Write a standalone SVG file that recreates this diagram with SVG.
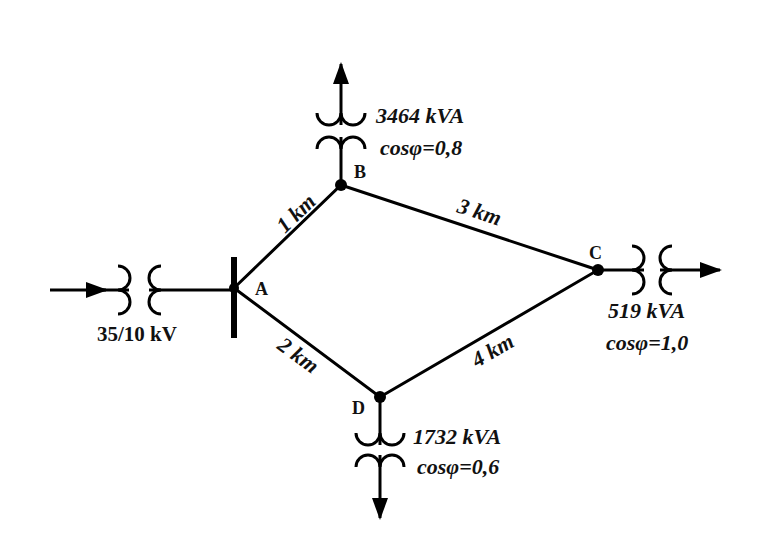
<svg xmlns="http://www.w3.org/2000/svg" width="782" height="554" viewBox="0 0 782 554">
<style>
.l{stroke:#000;stroke-width:3;fill:none}
.t{font-family:"Liberation Serif",serif;font-weight:bold;font-style:italic;font-size:22px;fill:#111}
.n{font-family:"Liberation Serif",serif;font-weight:bold;font-size:18px;fill:#111}
</style>
<defs><marker id="ar" markerWidth="22" markerHeight="16" refX="20" refY="8" orient="auto" markerUnits="userSpaceOnUse" viewBox="0 0 22 16"><path d="M0,0L22,8L0,16z" fill="#000"/></marker></defs>
<rect width="782" height="554" fill="#fff"/>
<g id="connectors">
<path class="l" d="M234,288L341,185L598,270L380,397Z"/>
</g>
<g id="A">
<line x1="234" y1="257" x2="234" y2="338" stroke="#000" stroke-width="6"/>
<circle cx="234" cy="288" r="5"/>
<line class="l" x1="50" y1="290" x2="106" y2="290" marker-end="url(#ar)"/>
<line class="l" x1="100" y1="290" x2="129" y2="290"/>
<path class="l" d="M118,266a12,12 0 0 1 0,24a12,12 0 0 1 0,24"/>
<path class="l" d="M161,266a12,12 0 0 0 0,24a12,12 0 0 0 0,24"/>
<line class="l" x1="149" y1="290" x2="234" y2="290"/>
<text class="n" x="255" y="295">A</text>
<text class="n" x="97" y="341" style="font-size:21px">35/10 kV</text>
</g>
<g id="B">
<circle cx="341" cy="185" r="6"/>
<line class="l" x1="341" y1="185" x2="341" y2="137"/>
<path class="l" d="M317,149a12,12 0 0 1 24,0a12,12 0 0 1 24,0"/>
<path class="l" d="M317,113a12,12 0 0 0 24,0a12,12 0 0 0 24,0"/>
<line class="l" x1="341" y1="125" x2="341" y2="64" marker-end="url(#ar)"/>
<text class="n" x="354" y="178">B</text>
<text class="t" x="376" y="123">3464 kVA</text>
<text class="t" x="380" y="155">cosφ=0,8</text>
</g>
<g id="C">
<circle cx="598" cy="270" r="6"/>
<line class="l" x1="598" y1="270" x2="644" y2="270"/>
<path class="l" d="M632,246a12,12 0 0 1 0,24a12,12 0 0 1 0,24"/>
<path class="l" d="M672,246a12,12 0 0 0 0,24a12,12 0 0 0 0,24"/>
<line class="l" x1="660" y1="270" x2="720" y2="270" marker-end="url(#ar)"/>
<text class="n" x="589" y="259">C</text>
<text class="t" x="608" y="318">519 kVA</text>
<text class="t" x="606" y="350">cosφ=1,0</text>
</g>
<g id="D">
<circle cx="380" cy="397" r="6"/>
<line class="l" x1="380" y1="397" x2="380" y2="445"/>
<path class="l" d="M356,433a12,12 0 0 0 24,0a12,12 0 0 0 24,0"/>
<path class="l" d="M356,467a12,12 0 0 1 24,0a12,12 0 0 1 24,0"/>
<line class="l" x1="380" y1="455" x2="380" y2="518" marker-end="url(#ar)"/>
<text class="n" x="352" y="414">D</text>
<text class="t" x="413" y="444">1732 kVA</text>
<text class="t" x="417" y="474">cosφ=0,6</text>
</g>
<g id="labels">
<text class="t" transform="translate(285,234) rotate(-44)">1 km</text>
<text class="t" transform="translate(456,212) rotate(18)">3 km</text>
<text class="t" transform="translate(477,368) rotate(-30)">4 km</text>
<text class="t" transform="translate(276,348) rotate(36)">2 km</text>
</g>
</svg>
